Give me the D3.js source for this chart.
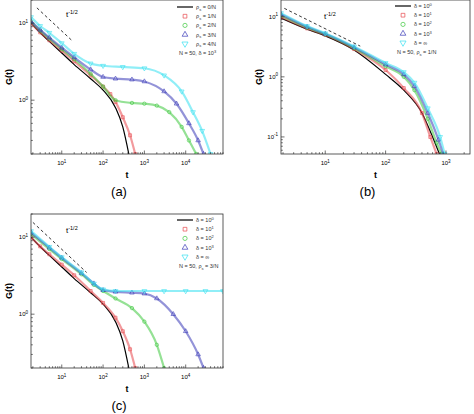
<!DOCTYPE html><html><head><meta charset="utf-8"><script src="https://cdn.jsdelivr.net/npm/d3@7"></script>
<style>body{margin:0;background:#fff}text{font-family:Arial,"Liberation Sans",sans-serif}</style></head><body><svg id="s" width="474" height="414"></svg>
<script>
// Panel (a): N=50, delta=10^3, varying rho_s
const aBlack=[[1.8,10],[3,7.5],[5,5.8],[10,4.1],[20,2.9],[50,1.9],[100,1.35],[200,0.8],[300,0.45],[420,0.2]];
const aRed=[[1.8,10],[3,7.6],[5,6],[10,4.4],[20,3.2],[50,2.1],[100,1.5],[150,1.2],[200,0.95],[300,0.6],[450,0.35],[600,0.2]];
const aGreen=[[1.8,10.5],[3,8],[5,6.3],[10,4.6],[20,3.4],[50,2.2],[100,1.5],[200,1.0],[500,0.92],[1000,0.9],[2000,0.85],[4000,0.7],[8000,0.45],[12000,0.3],[18000,0.2]];
const aBlue=[[1.8,10.5],[3,8.2],[5,6.5],[10,4.8],[20,3.6],[50,2.5],[100,2.0],[200,1.9],[500,1.85],[1000,1.75],[3000,1.3],[6000,0.9],[12000,0.5],[20000,0.3],[27000,0.2]];
const aCyan=[[1.8,12],[3,9.2],[5,7.5],[10,5.5],[20,4],[50,3.0],[100,2.8],[300,2.7],[1000,2.6],[3000,2.1],[8000,1.3],[15000,0.7],[25000,0.4],[40000,0.2]];
// Panel (b): N=50, rho_s=1/N, varying delta
const bBlack=[[1.85,9.5],[5,6.2],[10,4.8],[30,2.8],[100,1.1],[200,0.6],[400,0.25],[600,0.1],[780,0.052]];
const bRed=[[1.85,10],[5,6.4],[10,5],[30,2.9],[100,1.3],[200,0.65],[400,0.25],[550,0.1],[700,0.052]];
const bGreen=[[1.85,10.5],[5,6.6],[10,5.1],[30,3],[100,1.5],[200,1],[300,0.6],[500,0.2],[700,0.08],[850,0.052]];
const bBlue=[[1.85,11],[5,6.8],[10,5.2],[30,3.1],[100,1.6],[200,1.1],[300,0.7],[500,0.25],[750,0.09],[900,0.052]];
const bCyan=[[1.85,11.5],[5,7],[10,5.3],[30,3.2],[100,1.7],[200,1.2],[300,0.8],[500,0.3],[800,0.1],[950,0.052]];
// Panel (c): N=50, rho_s=3/N, varying delta
const cBlack=aBlack;
const cRed=[[1.8,10],[3,7.6],[5,6],[10,4.4],[20,3.2],[50,2.0],[100,1.4],[200,0.9],[300,0.6],[450,0.35],[600,0.2]];
const cGreen=[[1.8,11],[5,7],[10,5.2],[30,3.3],[60,2.4],[100,2.0],[200,1.6],[500,1.2],[1000,0.8],[2000,0.4],[3000,0.2]];
const cBlue=[[1.8,11.5],[5,7.3],[10,5.4],[30,3.4],[60,2.5],[100,2.05],[200,1.95],[500,1.9],[1000,1.85],[2000,1.6],[5000,1.0],[10000,0.6],[20000,0.3],[27000,0.2]];
const cCyan=[[1.8,12],[5,7.5],[10,5.5],[30,3.5],[60,2.5],[100,2.1],[200,2.0],[1000,2.0],[3000,2.0],[10000,2.0],[30000,2.0],[80000,2.0]];
// legend labels: [main, subscript, rest, superscript]
const legA=[["ρ","s"," = 0/N",""],["ρ","s"," = 1/N",""],["ρ","s"," = 2/N",""],["ρ","s"," = 3/N",""],["ρ","s"," = 4/N",""]];
const legD=[["δ = 10","","","0"],["δ = 10","","","1"],["δ = 10","","","2"],["δ = 10","","","3"],["δ = ∞","","",""]];
const colors=["#000","#e8474c","#3ec83e","#3a3ab8","#35e0f0"];
const shapes=[null,d3.symbolSquare,d3.symbolCircle,d3.symbolTriangle,"down"];

const svg=d3.select("#s");
function panel(o){
  const g=svg.append("g");
  const x=d3.scaleLog().domain(o.xd).range([o.l,o.r]);
  const y=d3.scaleLog().domain(o.yd).range([o.b,o.t]);
  const cp="cp"+o.id;
  svg.append("clipPath").attr("id",cp).append("rect").attr("x",o.l).attr("y",o.t).attr("width",o.r-o.l).attr("height",o.b-o.t);
  const pg=g.append("g").attr("clip-path",`url(#${cp})`);
  const line=d3.line().x(d=>x(d[0])).y(d=>y(d[1])).curve(d3.curveMonotoneX);
  o.series.forEach((s,i)=>{
    pg.append("path").attr("d",line(s)).attr("fill","none").attr("stroke",colors[i]).attr("stroke-width",i==0?1.2:2.2).attr("opacity",i==0?1:0.55);
    if(i>0){
      const sym=shapes[i]=="down"?d3.symbol(d3.symbolTriangle,10):d3.symbol(shapes[i],9);
      pg.selectAll(null).data(s).enter().append("path").attr("d",sym)
        .attr("transform",d=>`translate(${x(d[0])},${y(d[1])})`+(shapes[i]=="down"?" rotate(180)":""))
        .attr("fill","none").attr("stroke",colors[i]).attr("stroke-width",0.6);
    }
  });
  const ds=o.dash.t.map(t=>[t,o.dash.k/Math.sqrt(t)]);
  g.append("path").attr("d",d3.line().x(d=>x(d[0])).y(d=>y(d[1]))(ds)).attr("stroke","#222").attr("stroke-dasharray","3,2.5").attr("stroke-width",0.9);
  const tl=g.append("text").attr("x",o.dl[0]).attr("y",o.dl[1]).attr("font-size",8);
  tl.append("tspan").text("t");tl.append("tspan").attr("dy",-3).attr("font-size",5.5).text("-1/2");
  g.append("rect").attr("x",o.l).attr("y",o.t).attr("width",o.r-o.l).attr("height",o.b-o.t).attr("fill","none").attr("stroke","#333").attr("stroke-width",0.8);
  const tk=(lo,hi)=>{const a=[];for(let e=-3;e<=6;e++)for(let m=1;m<10;m++){const v=m*10**e;if(v>=lo&&v<=hi)a.push([v,m==1,e]);}return a;};
  tk(...o.xd).forEach(([v,maj,e])=>{
    g.append("line").attr("x1",x(v)).attr("x2",x(v)).attr("y1",o.b).attr("y2",o.b-(maj?3.5:1.8)).attr("stroke","#333").attr("stroke-width",0.7);
    if(maj&&e>=1){const t=g.append("text").attr("x",x(v)).attr("y",o.b+11).attr("font-size",6).attr("text-anchor","middle");
      t.append("tspan").text("10");t.append("tspan").attr("dy",-2.5).attr("font-size",4.5).text(e);}
  });
  tk(o.yd[0],o.yd[1]).forEach(([v,maj,e])=>{
    g.append("line").attr("x1",o.l).attr("x2",o.l+(maj?3.5:1.8)).attr("y1",y(v)).attr("y2",y(v)).attr("stroke","#333").attr("stroke-width",0.7);
    if(maj){const t=g.append("text").attr("x",o.l-3).attr("y",y(v)+2).attr("font-size",6).attr("text-anchor","end");
      t.append("tspan").text("10");t.append("tspan").attr("dy",-2.5).attr("font-size",4.5).text(e);}
  });
  g.append("text").attr("transform",`translate(${o.l-19},${(o.t+o.b)/2}) rotate(-90)`).attr("text-anchor","middle").attr("font-size",9).attr("font-weight","bold").text("G(t)");
  g.append("text").attr("x",(o.l+o.r)/2).attr("y",o.b+24).attr("text-anchor","middle").attr("font-size",9).attr("font-weight","bold").text("t");
  g.append("text").attr("x",(o.l+o.r)/2-8).attr("y",o.b+42).attr("text-anchor","middle").attr("font-size",13).attr("font-family","Liberation Serif,serif").text(o.cap);
  o.leg.forEach((s,i)=>{
    const yy=o.lg[1]+i*9.2;
    if(i==0)g.append("line").attr("x1",o.lg[0]).attr("x2",o.lg[0]+16).attr("y1",yy).attr("y2",yy).attr("stroke","#000").attr("stroke-width",1.2);
    else{const sym=shapes[i]=="down"?d3.symbol(d3.symbolTriangle,16):d3.symbol(shapes[i],14);
      g.append("path").attr("d",sym).attr("transform",`translate(${o.lg[0]+8},${yy})`+(shapes[i]=="down"?" rotate(180)":"")).attr("fill","none").attr("stroke",colors[i]).attr("stroke-width",0.7);}
    const t=g.append("text").attr("x",o.lg[0]+19).attr("y",yy+2).attr("font-size",5.5).attr("fill","#333");
    t.append("tspan").text(s[0]);
    if(s[1]){t.append("tspan").attr("dy",1.5).attr("font-size",4).text(s[1]);t.append("tspan").attr("dy",-1.5).text(s[2]);}
    if(s[3]){t.append("tspan").attr("dy",-2).attr("font-size",4).text(s[3]);}
  });
  const ft=g.append("text").attr("x",o.lg[0]+2).attr("y",o.lg[1]+5*9.2+2).attr("font-size",5.5).attr("fill","#333");
  o.foot(ft);
}
panel({id:"a",l:31,r:223,t:0,b:154,xd:[1.8,8e4],yd:[0.2,20],series:[aBlack,aRed,aGreen,aBlue,aCyan],
  dash:{k:25,t:[2.5,17]},dl:[66,17],cap:"(a)",leg:legA,lg:[177,7],
  foot:t=>{t.append("tspan").text("N = 50, δ = 10");t.append("tspan").attr("dy",-2).attr("font-size",4).text("3");}});
panel({id:"b",l:281,r:470,t:0,b:154,xd:[1.85,2500],yd:[0.052,19],series:[bBlack,bRed,bGreen,bBlue,bCyan],
  dash:{k:20,t:[2.1,38]},dl:[324,19],cap:"(b)",leg:legD,lg:[395,6],
  foot:t=>{t.append("tspan").text("N = 50, ρ");t.append("tspan").attr("dy",1.5).attr("font-size",4).text("s");t.append("tspan").attr("dy",-1.5).text(" = 1/N");}});
panel({id:"c",l:31,r:223,t:214,b:368,xd:[1.8,8e4],yd:[0.2,20],series:[cBlack,cRed,cGreen,cBlue,cCyan],
  dash:{k:22,t:[2,40]},dl:[66,233],cap:"(c)",leg:legD,lg:[177,220],
  foot:t=>{t.append("tspan").text("N = 50, ρ");t.append("tspan").attr("dy",1.5).attr("font-size",4).text("s");t.append("tspan").attr("dy",-1.5).text(" = 3/N");}});
</script></body></html>
